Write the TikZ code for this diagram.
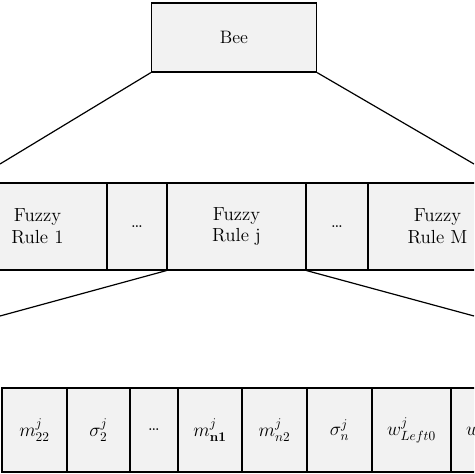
\documentclass[tikz,border=0pt]{standalone}
\begin{document}
\begin{tikzpicture}[x=0.75pt,y=-0.75pt,
  cell/.style={draw=black,line width=0.9pt,fill=black!5,rectangle,inner sep=0pt,anchor=center,align=center,
    font=\fontsize{13.5}{16}\selectfont},
  toprow/.style={cell,minimum height=87*0.75pt,font=\fontsize{14.2}{16.2}\selectfont},
  botrow/.style={cell,minimum height=84*0.75pt,font=\fontsize{14}{16}\selectfont},
  link/.style={line width=0.9pt,black}]
\useasboundingbox (0,0) rectangle (474,474);
\fill[white] (0,0) rectangle (474,474);
\clip (0,0) rectangle (474,474);
% top node
\node[cell,minimum width=165*0.75pt,minimum height=69*0.75pt] (bee) at (234,37.5) {Bee};
% rule row
\node[toprow,minimum width=139*0.75pt] (r1) at (37.5,226.5) {Fuzzy\\Rule 1};
\node[toprow,minimum width=60*0.75pt] (d1) at (137,226.5) {\dots};
\node[toprow,minimum width=139*0.75pt] (rj) at (236.5,226.5) {Fuzzy\\Rule j};
\node[toprow,minimum width=62*0.75pt] (d2) at (337,226.5) {\dots};
\node[toprow,minimum width=139*0.75pt] (rm) at (437.5,226.5) {Fuzzy\\Rule M};
% parameter row
\node[botrow,minimum width=65*0.75pt] (p1) at (34.5,430) {$m^{j}_{22}$};
\node[botrow,minimum width=63*0.75pt] (p2) at (98.5,430) {$\sigma^{j}_{2}$};
\node[botrow,minimum width=48*0.75pt] (p3) at (154,430) {\dots};
\node[botrow,minimum width=64*0.75pt] (p4) at (210,430) {$m^{j}_{\mathbf{n1}}$};
\node[botrow,minimum width=65*0.75pt] (p5) at (274.5,430) {$m^{j}_{n2}$};
\node[botrow,minimum width=65*0.75pt] (p6) at (339.5,430) {$\sigma^{j}_{n}$};
\node[botrow,minimum width=79*0.75pt] (p7) at (411.5,430) {$w^{j}_{Left0}$};
\node[botrow,minimum width=79*0.75pt] (p8) at (490.5,430) {$w^{j}_{Left1}$};
% connector ends
\coordinate (a1) at (0,164);
\coordinate (a2) at (474,164);
\coordinate (b1) at (0,316);
\coordinate (b2) at (474,316);
\draw[link] (bee.south west) -- (a1);
\draw[link] (bee.south east) -- (a2);
\draw[link] (rj.south west) -- (b1);
\draw[link] (rj.south east) -- (b2);
\end{tikzpicture}
\end{document}
